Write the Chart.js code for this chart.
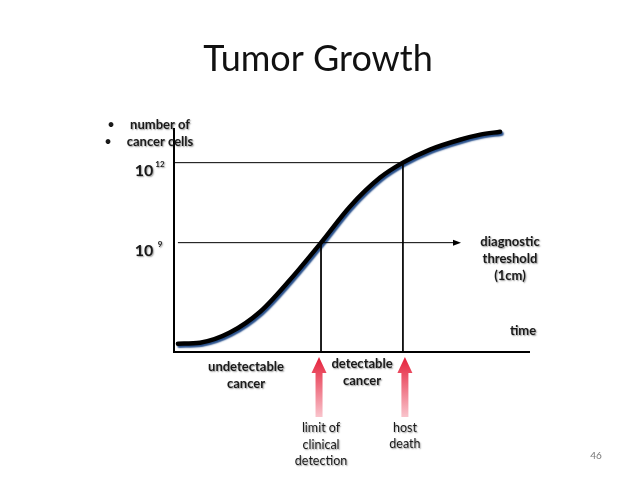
<!DOCTYPE html>
<html>
<head>
<meta charset="utf-8">
<script src="https://cdn.jsdelivr.net/npm/chart.js@4.4.0/dist/chart.umd.min.js"></script>
<style>
  html, body { margin: 0; padding: 0; background: #ffffff; }
  #wrap { width: 638px; height: 479px; position: relative; }
</style>
</head>
<body>
<div id="wrap"><canvas id="c" width="638" height="479"></canvas></div>
<script>
// ---- data ----
const timePoints = [1.1, 7.3, 15.7, 24.2, 32.6, 41.3, 49.4, 57.9, 64.3, 71.9, 80.3, 86.0, 91.6];
const logCells   = [5.21, 5.25, 5.63, 6.41, 7.61, 9.0, 10.35, 11.44, 12.0, 12.49, 12.86, 13.05, 13.16];
const yTickExponents = [9, 12];
const yTickBase = "10";
const diagnosticThreshold = 9;
const lethalBurden = 12;
const clinicalDetectionTime = 41.3;
const hostDeathTime = 64.3;
const thresholdArrowEnd = 79.5;
const xRange = [0, 100];
const yRange = [4.9, 13.3];

const titleText = "Tumor Growth";
const yAxisLabel = ["number of", "cancer cells"];
const thresholdLabel = ["diagnostic", "threshold", "(1cm)"];
const xAxisLabel = "time";
const undetectableLabel = ["undetectable", "cancer"];
const detectableLabel = ["detectable", "cancer"];
const clinicalLabel = ["limit of", "clinical", "detection"];
const deathLabel = ["host", "death"];
const pageNumber = "46";

const FONT = "Lato, 'Open Sans', sans-serif";

const curve = timePoints.map((t, i) => ({ x: t, y: logCells[i] }));

const thin = { borderColor: '#000', borderWidth: 1, pointRadius: 0, fill: false, tension: 0, clip: false };

const datasets = [
  Object.assign({ label: 'axes', data: [{x: xRange[0], y: yRange[1]}, {x: xRange[0], y: yRange[0]}, {x: xRange[1], y: yRange[0]}] }, thin, { borderWidth: 2 }),
  Object.assign({ label: 'lethal', data: [{x: xRange[0], y: lethalBurden}, {x: hostDeathTime, y: lethalBurden}, {x: hostDeathTime, y: yRange[0]}] }, thin),
  Object.assign({ label: 'threshold', data: [{x: timePoints[0], y: diagnosticThreshold}, {x: thresholdArrowEnd, y: diagnosticThreshold}] }, thin),
  Object.assign({ label: 'clinical', data: [{x: clinicalDetectionTime, y: diagnosticThreshold}, {x: clinicalDetectionTime, y: yRange[0]}] }, thin),
  { label: 'growth', data: curve, borderColor: '#000', borderWidth: 4.5, pointRadius: 0, fill: false,
    cubicInterpolationMode: 'monotone', clip: false, borderCapStyle: 'round' }
];

function shadowText(ctx, text, x, y, font, color, shadow, baseline) {
  ctx.save();
  ctx.font = font;
  ctx.fillStyle = color;
  ctx.textAlign = 'center';
  ctx.textBaseline = baseline || 'middle';
  if (shadow) {
    ctx.shadowColor = 'rgba(0,0,0,0.4)';
    ctx.shadowOffsetX = 1; ctx.shadowOffsetY = 1; ctx.shadowBlur = 1.5;
  }
  ctx.fillText(text, x, y);
  ctx.restore();
}

function redArrow(ctx, x, top, bottom) {
  const g = ctx.createLinearGradient(0, top, 0, bottom);
  g.addColorStop(0, '#e5203a');
  g.addColorStop(1, '#f9c4cc');
  ctx.save();
  ctx.fillStyle = g;
  ctx.beginPath();
  ctx.moveTo(x, top);
  ctx.lineTo(x + 7.5, top + 16);
  ctx.lineTo(x + 3.5, top + 16);
  ctx.lineTo(x + 3.5, bottom);
  ctx.lineTo(x - 3.5, bottom);
  ctx.lineTo(x - 3.5, top + 16);
  ctx.lineTo(x - 7.5, top + 16);
  ctx.closePath();
  ctx.fill();
  ctx.restore();
}

const annotate = {
  id: 'annotate',
  beforeDatasetDraw(chart, args) {
    if (chart.data.datasets[args.index].label === 'growth') {
      const ctx = chart.ctx;
      ctx.save();
      ctx.shadowColor = 'rgba(40,80,140,1)';
      ctx.shadowOffsetX = 1.5; ctx.shadowOffsetY = 2; ctx.shadowBlur = 1.5;
    }
  },
  afterDatasetDraw(chart, args) {
    if (chart.data.datasets[args.index].label === 'growth') chart.ctx.restore();
  },
  afterDraw(chart) {
    const ctx = chart.ctx;
    const xs = chart.scales.x, ys = chart.scales.y;
    // arrowhead on threshold line
    const ax = xs.getPixelForValue(thresholdArrowEnd), ay = ys.getPixelForValue(diagnosticThreshold);
    ctx.save();
    ctx.fillStyle = '#000';
    ctx.beginPath();
    ctx.moveTo(ax + 4, ay); ctx.lineTo(ax - 4, ay - 3); ctx.lineTo(ax - 4, ay + 3); ctx.closePath();
    ctx.fill();
    ctx.restore();

    const dark = '#1a1a1a';
    const bold13 = "bold 13px " + FONT;
    // title
    shadowText(ctx, titleText, 318, 71, "36px " + FONT, '#111', false, 'alphabetic');
    // y label bullets
    shadowText(ctx, "\u2022", 111, 125, "13px " + FONT, dark, false);
    shadowText(ctx, "\u2022", 108, 142, "13px " + FONT, dark, false);
    shadowText(ctx, yAxisLabel[0], 160, 125, bold13, dark, true);
    shadowText(ctx, yAxisLabel[1], 160, 142, bold13, dark, true);
    // y tick labels
    yTickExponents.forEach(e => {
      const py = ys.getPixelForValue(e) + 8;
      shadowText(ctx, yTickBase, 144, py, "bold 16px " + FONT, dark, true);
      shadowText(ctx, String(e), 160, py - 6, "bold 8px " + FONT, dark, true);
    });
    // threshold label
    thresholdLabel.forEach((t, i) => shadowText(ctx, t, 510, 242 + i * 17, bold13, dark, true));
    shadowText(ctx, xAxisLabel, 523, 331, bold13, dark, true);
    undetectableLabel.forEach((t, i) => shadowText(ctx, t, 246, 367 + i * 17, bold13, dark, true));
    detectableLabel.forEach((t, i) => shadowText(ctx, t, 362, 364 + i * 17, bold13, dark, true));
    // red arrows
    const cx = xs.getPixelForValue(clinicalDetectionTime) - 2;
    const dx = xs.getPixelForValue(hostDeathTime) + 2;
    redArrow(ctx, cx, 357, 417);
    redArrow(ctx, dx, 357, 417);
    clinicalLabel.forEach((t, i) => shadowText(ctx, t, cx + 2, 428 + i * 16.5, "12.5px " + FONT, dark, true));
    deathLabel.forEach((t, i) => shadowText(ctx, t, dx, 428 + i * 16, "12.5px " + FONT, dark, true));
    shadowText(ctx, pageNumber, 596, 456, "10px " + FONT, '#777', false);
  }
};

new Chart(document.getElementById('c'), {
  type: 'line',
  data: { datasets },
  options: {
    responsive: false,
    animation: false,
    layout: { padding: { left: 174, right: 108, top: 128, bottom: 127 } },
    plugins: { legend: { display: false }, tooltip: { enabled: false }, title: { display: false } },
    scales: {
      x: { type: 'linear', min: xRange[0], max: xRange[1], display: false },
      y: { type: 'linear', min: yRange[0], max: yRange[1], display: false }
    }
  },
  plugins: [annotate]
});
</script>
</body>
</html>
